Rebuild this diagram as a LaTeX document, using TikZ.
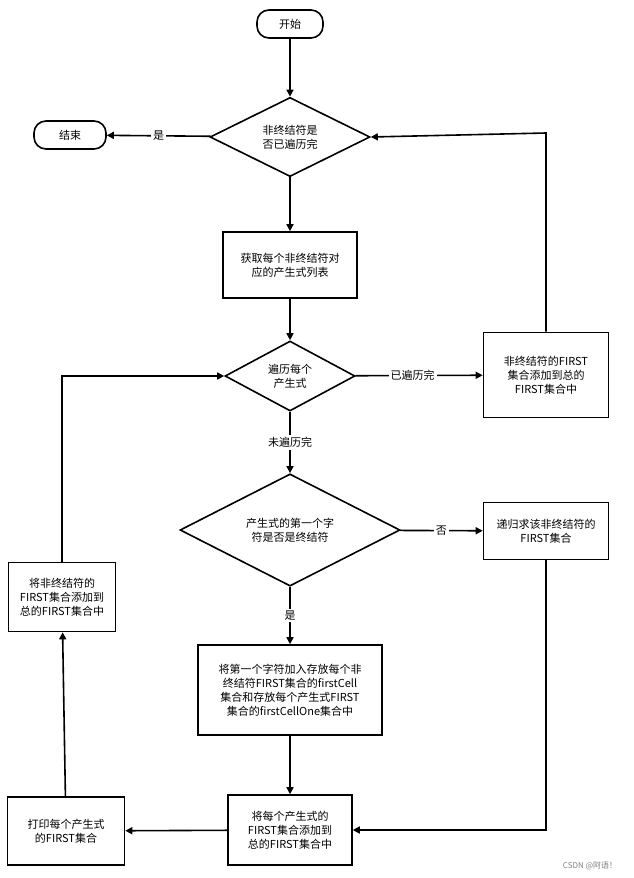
\documentclass[tikz,border=0pt]{standalone}
\usepackage{fontspec}
\setmainfont{Noto Sans CJK SC}
\usetikzlibrary{shapes.geometric,arrows.meta}
\begin{document}
\begin{tikzpicture}[x=1pt,y=-1pt,
  every node/.style={font=\fontsize{11}{14}\selectfont},
  box/.style={draw,line width=1.6pt,align=center,inner sep=2pt},
  dia/.style={draw,diamond,line width=1.6pt,align=center,inner sep=0pt},
  term/.style={draw,rounded corners=12pt,line width=1.6pt,minimum width=66pt,minimum height=28pt},
  lab/.style={fill=white,inner sep=2pt},
  arr/.style={line width=1.6pt,-{Triangle[length=7pt,width=7pt]}}]
\useasboundingbox (0,0) rectangle (634,878);
\node[term] (start) at (290,24) {开始};
\node[dia,minimum width=160pt,minimum height=72pt] (d1) at (290,137) {非终结符是\\否已遍历完};
\node[term,minimum width=72pt] (end) at (70,135) {结束};
\node[box,minimum width=134pt,minimum height=66pt] (b1) at (290,265) {获取每个非终结符对\\应的产生式列表};
\node[dia,minimum width=130pt,minimum height=70pt] (d2) at (290,376) {遍历每个\\产生式};
\node[box,minimum width=125pt,minimum height=85pt] (br1) at (546,375) {非终结符的FIRST\\集合添加到总的\\FIRST集合中};
\node[dia,minimum width=220pt,minimum height=86pt] (d3) at (290,530) {产生式的第一个字\\符是否是终结符};
\node[box,minimum width=125pt,minimum height=57pt] (br2) at (546,531) {递归求该非终结符的\\FIRST集合};
\node[box,minimum width=184pt,minimum height=90pt] (b2) at (290,690) {将第一个字符加入存放每个非\\终结符FIRST集合的firstCell\\集合和存放每个产生式FIRST\\集合的firstCellOne集合中};
\node[box,minimum width=124pt,minimum height=70pt] (b3) at (290,830) {将每个产生式的\\FIRST集合添加到\\总的FIRST集合中};
\node[box,minimum width=117pt,minimum height=68pt] (bl1) at (66,831) {打印每个产生式\\的FIRST集合};
\node[box,minimum width=107pt,minimum height=69pt] (bl2) at (62,597) {将非终结符的\\FIRST集合添加到\\总的FIRST集合中};
\coordinate (c1) at (546,133);
\coordinate (c2) at (546,830);
\coordinate (c3) at (62,376);
\draw[arr] (start) -- (d1);
\draw[arr] (d1) -- node[lab]{是} (end);
\draw[arr] (d1) -- (b1);
\draw[arr] (b1) -- (d2);
\draw[arr] (d2) -- node[lab,pos=0.45]{已遍历完} (br1);
\draw[arr] (br1.north) -- (c1) -- (d1.east);
\draw[arr] (d2) -- node[lab]{未遍历完} (d3);
\draw[arr] (d3) -- node[lab]{否} (br2);
\draw[arr] (d3) -- node[lab]{是} (b2);
\draw[arr] (b2) -- (b3);
\draw[arr] (br2.south) -- (c2) -- (b3.east);
\draw[arr] (b3) -- (bl1);
\draw[arr] (bl1) -- (bl2);
\draw[arr] (bl2.north) -- (c3) -- (d2.west);
\node[font=\fontsize{8}{10}\selectfont,text=gray] (wm) at (590,866) {CSDN @阿语！};
\end{tikzpicture}
\end{document}
